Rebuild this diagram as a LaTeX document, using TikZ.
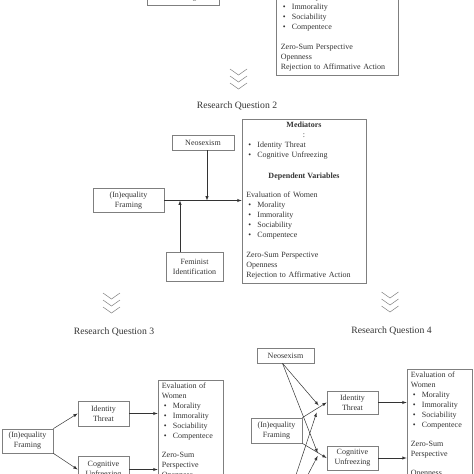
\documentclass[tikz,border=0pt]{standalone}
\usepackage{fontspec}
\setmainfont{Liberation Serif}
\usetikzlibrary{arrows,positioning}
\definecolor{boxgray}{HTML}{7F7F7F}
\definecolor{inkgray}{HTML}{333333}
\newcommand{\boxfont}{\fontsize{8}{10}\selectfont}
\newcommand{\rqfont}{\fontsize{9.7}{11}\selectfont}
\newcommand{\itm}[1]{\hspace*{2pt}\makebox[9pt][l]{\textbullet}#1}
\newcommand{\chevs}[2]{% three stacked chevrons
  \foreach \d in {0,7,14}
    \draw[chev] (#1-8.5,#2+\d) -- (#1,#2+\d+6) -- (#1+8.5,#2+\d);}
\tikzset{
  box/.style={draw=boxgray, line width=0.7pt, inner sep=0pt, align=center, font=\boxfont, text=inkgray},
  txt/.style={inner sep=0pt, font=\boxfont, text=inkgray},
  arr/.style={-latex, line width=0.5pt, draw=inkgray},
  chev/.style={line width=0.5pt, draw=boxgray},
  rq/.style={inner sep=0pt, font=\rqfont, text=inkgray}
}
\begin{document}
\begin{tikzpicture}[x=1pt,y=-1pt]
  \useasboundingbox (0,0) rectangle (474,474);
  \clip (0,0) rectangle (474,474);

  % Research question 1 (cut at the top)
  \node[box, minimum width=72pt, minimum height=24pt] (frame1) at (183,-7) {(In)equality\\Framing};
  \node[box, minimum width=122pt, minimum height=150pt] (dv1) at (337,0) {};
  \node[txt, text width=116pt, align=left, anchor=base west] (dv1t) at ([shift={(5,-11)}]dv1.west)
    {Evaluation of Women\\\itm{Morality}\\\itm{Immorality}\\\itm{Sociability}\\\itm{Compentece}\\[10pt]Zero-Sum Perspective\\Openness\\Rejection to Affirmative Action};

  \chevs{238.5}{69}
  \node[rq] (rq2) at (237,106) {Research Question 2};

  % Research question 2
  \node[box, minimum width=71pt, minimum height=24pt] (frame2) at (128.5,200.5) {(In)equality\\Framing};
  \node[box, minimum width=62pt, minimum height=15pt] (neo2) at (203,142.5) {Neosexism};
  \node[box, minimum width=57pt, minimum height=29pt] (fem2) at (194.5,266.5) {Feminist\\Identification};
  \node[box, minimum width=124pt, minimum height=164pt] (dv2) at (304,201) {};
  \node[txt, anchor=base] (med2) at ([shift={(0,9)}]dv2.north) {\textbf{Mediators}};
  \node[txt, anchor=base] (colon2) at ([shift={(0,19)}]dv2.north) {:};
  \node[txt, text width=116pt, align=left, anchor=base west] (med2t) at ([shift={(4.5,29)}]dv2.north west)
    {\itm{Identity Threat}\\\itm{Cognitive Unfreezing}};
  \node[txt, anchor=base] (dep2) at ([shift={(0,60)}]dv2.north) {\textbf{Dependent Variables}};
  \node[txt, text width=116pt, align=left, anchor=base west] (dv2t) at ([shift={(4.5,79)}]dv2.north west)
    {Evaluation of Women\\\itm{Morality}\\\itm{Immorality}\\\itm{Sociability}\\\itm{Compentece}\\[10pt]Zero-Sum Perspective\\Openness\\Rejection to Affirmative Action};
  \draw[arr] (frame2.east) -- (frame2.east -| dv2.west);
  \draw[arr] ([xshift=4]neo2.south) -- ([xshift=4]neo2.south |- frame2.east);
  \draw[arr] ([xshift=-14.5]fem2.north) -- ([xshift=-14.5]fem2.north |- frame2.east);

  \chevs{111.5}{293}
  \chevs{390}{292}
  \node[rq] (rq3) at (114,332) {Research Question 3};
  \node[rq] (rq4) at (391.5,331) {Research Question 4};

  % Research question 3
  \node[box, minimum width=51pt, minimum height=24pt] (frame3) at (27.5,441) {(In)equality\\Framing};
  \node[box, minimum width=51pt, minimum height=25pt] (id3) at (103.5,413.5) {Identity\\Threat};
  \node[box, minimum width=51pt, minimum height=27pt] (cog3) at (103.5,469.5) {Cognitive\\Unfreezing};
  \node[box, minimum width=65pt, minimum height=150pt] (ev3) at (190.5,455) {};
  \node[txt, text width=60pt, align=left, anchor=base west] (ev3t) at ([shift={(4,9)}]ev3.north west)
    {Evaluation of\\Women\\\itm{Morality}\\\itm{Immorality}\\\itm{Sociability}\\\itm{Compentece}\\[9pt]Zero-Sum\\Perspective\\Openness};
  \draw[arr] (frame3.north east) -- (id3.west);
  \draw[arr] (frame3.south east) -- (cog3.west);
  \draw[arr] (id3.east) -- (id3.east -| ev3.west);
  \draw[arr] (cog3.east) -- (cog3.east -| ev3.west);

  % Research question 4
  \node[box, minimum width=57pt, minimum height=15pt] (neo4) at (285.5,355.5) {Neosexism};
  \node[box, minimum width=51pt, minimum height=23pt] (id4) at (352.5,402.5) {Identity\\Threat};
  \node[box, minimum width=51pt, minimum height=25pt] (frame4) at (276.5,430.5) {(In)equality\\Framing};
  \node[box, minimum width=51pt, minimum height=24pt] (cog4) at (352.5,458) {Cognitive\\Unfreezing};
  \node[box, minimum width=65pt, minimum height=150pt] (ev4) at (439.5,444) {};
  \node[txt, text width=60pt, align=left, anchor=base west] (ev4t) at ([shift={(4,9)}]ev4.north west)
    {Evaluation of\\Women\\\itm{Morality}\\\itm{Immorality}\\\itm{Sociability}\\\itm{Compentece}\\[9pt]Zero-Sum\\Perspective\\[9pt]Openness};
  \coordinate (fem4a) at (291,490);
  \coordinate (fem4b) at (300,490);
  \coordinate (m4id) at ([shift={(-8,3)}]id4.west);
  \coordinate (m4cog) at ([shift={(-9,-5)}]cog4.west);
  \draw[arr] (frame4.north east) -- (id4.west);
  \draw[arr] (frame4.south east) -- (cog4.west);
  \draw[arr] ([xshift=-3]neo4.south) -- (m4id);
  \draw[arr] ([xshift=-3]neo4.south) -- (m4cog);
  \draw[arr] (fem4a) -- ([shift={(-2,7)}]m4id);
  \draw[arr] (fem4b) -- ([shift={(0,3)}]m4cog);
  \draw[arr] (id4.east) -- (id4.east -| ev4.west);
  \draw[arr] (cog4.east) -- (cog4.east -| ev4.west);
\end{tikzpicture}
\end{document}
